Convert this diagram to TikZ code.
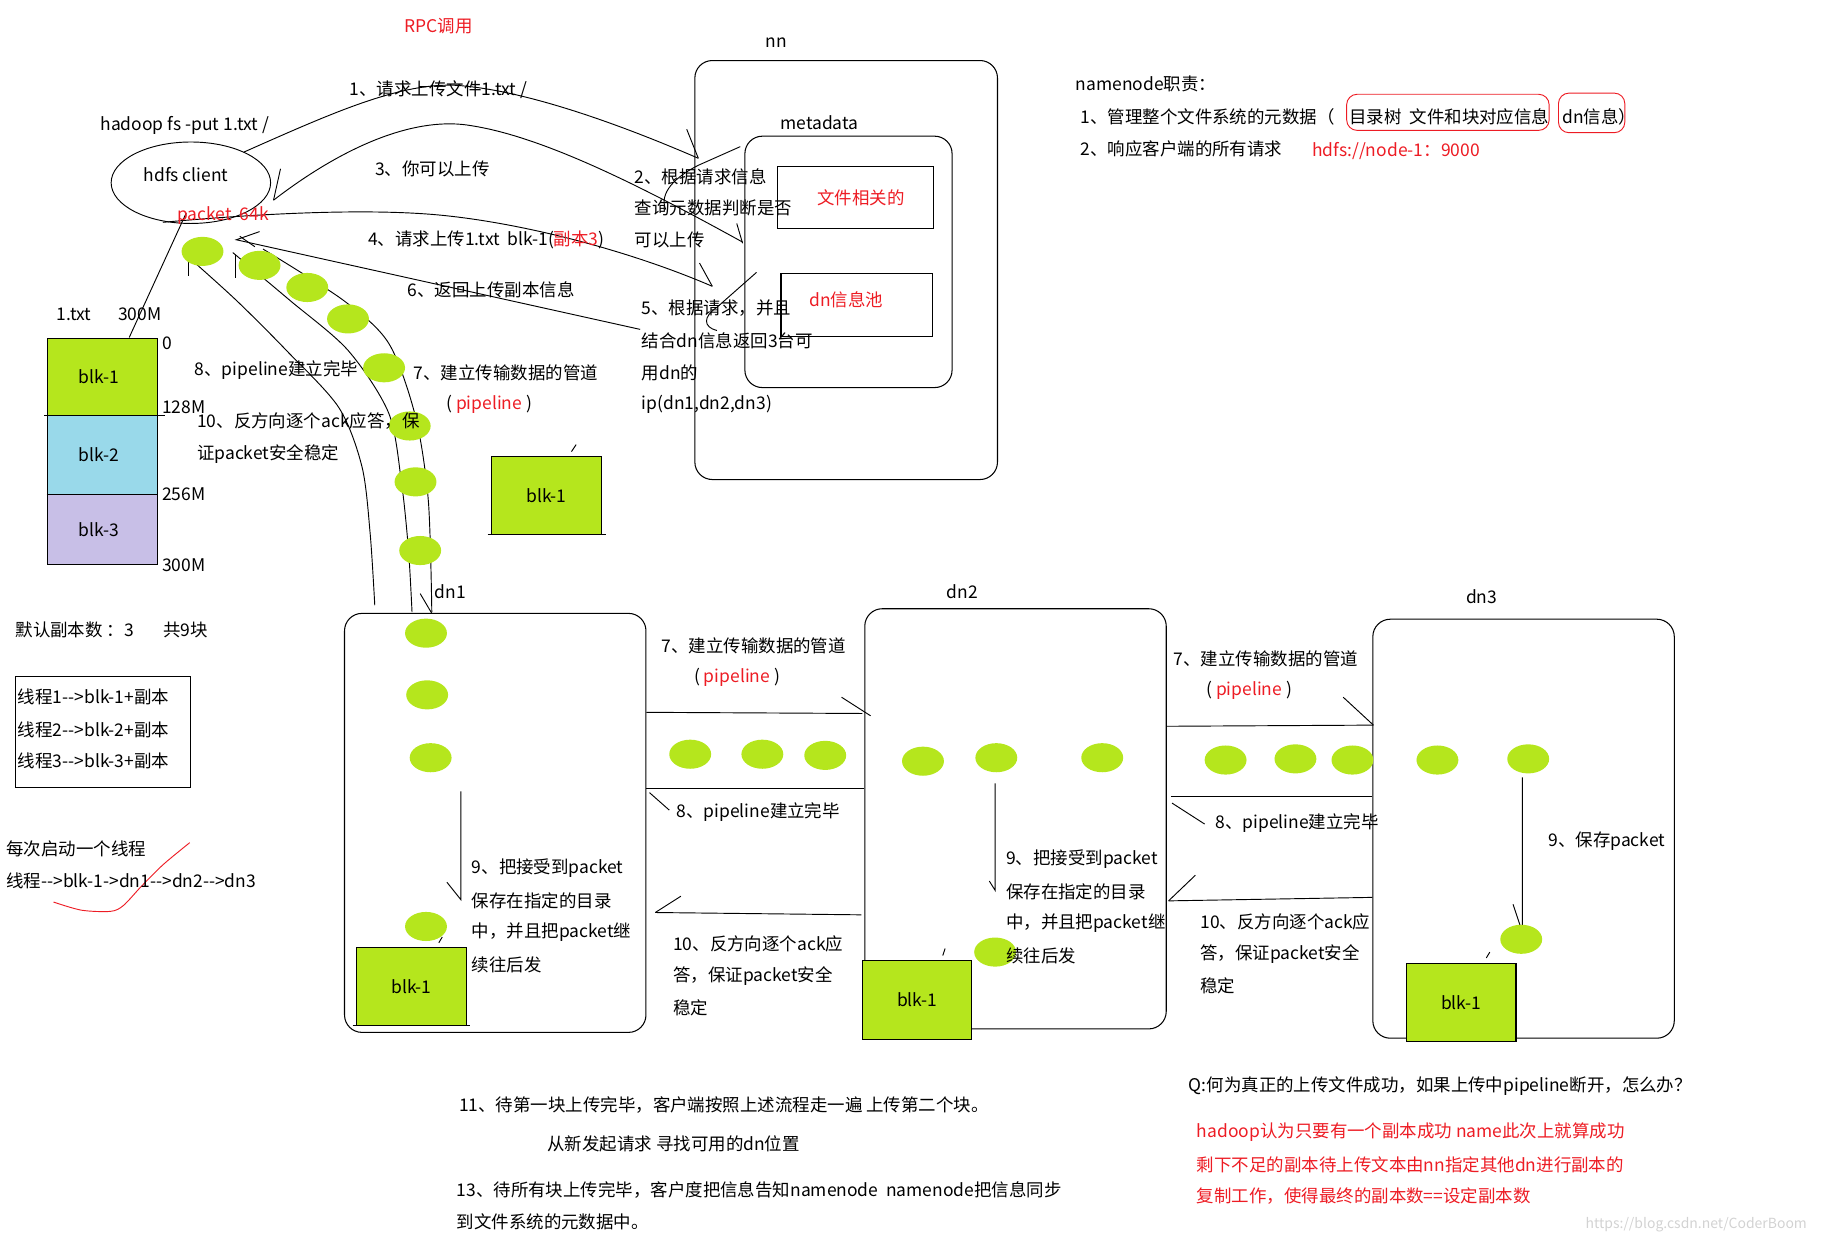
\documentclass[tikz,border=0pt]{standalone}
\usepackage{fontspec}
\setmainfont{Noto Sans CJK SC}[Ligatures=TeXOff]
\usetikzlibrary{shapes.geometric}
\definecolor{paintgreen}{HTML}{B5E61D}
\definecolor{paintblue}{HTML}{99D9EA}
\definecolor{paintlilac}{HTML}{C8BFE7}
\definecolor{paintred}{HTML}{ED1C24}
\newcommand{\txtsize}{\fontsize{15}{18}\selectfont}
\newcommand{\pipetxt}{(\ \textcolor{paintred}{pipeline}\ )}

\begin{document}
\begin{tikzpicture}[
    x=1pt, y=-1pt, line width=0.8pt,
    txt/.style={anchor=west, inner sep=0pt, font=\txtsize},
    redtxt/.style={txt, text=paintred},
    ctxt/.style={inner sep=0pt, font=\txtsize},
    roundbox/.style={draw, line width=0.9pt, rounded corners=15pt, inner sep=0pt},
    plainbox/.style={draw, line width=0.9pt, inner sep=0pt},
    blkbox/.style={draw, line width=0.9pt, fill=paintgreen, inner sep=0pt,
      minimum width=94pt, minimum height=67pt, font=\txtsize},
    packet/.style={fill=paintgreen}
  ]
  \useasboundingbox (0,0) rectangle (1568,1068);

  % boxes
  \node[roundbox, minimum width=260pt, minimum height=360pt] (nn) at (727,232) {};
  \node[roundbox, minimum width=178pt, minimum height=216pt] (meta) at (729,225) {};
  \node[plainbox, minimum width=134pt, minimum height=53pt] (filebox) at (735,169.5) {};
  \node[plainbox, minimum width=130pt, minimum height=54pt] (poolbox) at (736,262) {};
  \node[roundbox, minimum width=259pt, minimum height=360pt] (dn1) at (425.5,707) {};
  \node[roundbox, minimum width=259pt, minimum height=361pt] (dn2) at (872.5,703.5) {};
  \node[roundbox, minimum width=259pt, minimum height=360pt] (dn3) at (1309,712) {};
  \node[draw, ellipse, inner sep=0pt, minimum width=137pt, minimum height=70pt] (client) at (164,157) {};
  \node[plainbox, minimum width=151pt, minimum height=96pt] (threads) at (88.5,629) {};
  \draw[paintred, rounded corners=9pt] (1157,81) rectangle (1331,112);
  \draw[paintred, rounded corners=9pt] (1339,80) rectangle (1396,114);

  % file split into blocks
  \foreach \ya/\yb/\col/\name in {291/357/paintgreen/blk-1, 357/425/paintblue/blk-2, 425/485/paintlilac/blk-3}
  {
    \fill[\col] (41,\ya) rectangle (135,\yb);
    \node[ctxt] (stack-\name) at (85,{(\ya+\yb)/2}) {\name};
  }
  \draw[line width=0.9pt] (41,291) rectangle (135,485);
  \draw (38,357) -- (142,357);
  \draw (40,425) -- (135,425);
  \draw (160,183) -- (111,290);

  % rpc calls between client and nn
  \draw (client.30) .. controls (290,95) and (350,68) .. (400,74)
    .. controls (460,80) and (540,110) .. (600,136);
  \draw (590,111) -- (600,136);
  \draw (636,126) -- (600,142) .. controls (580,152) and (566,166) .. (572,180);
  \draw (235,172) .. controls (300,122) and (360,100) .. (405,108)
    .. controls (470,118) and (560,165) .. (638,208);
  \draw (241,145) -- (235,172);
  \draw (633,192) -- (638,209);
  \draw (140,191) .. controls (250,181) and (330,180) .. (380,185)
    .. controls (450,192) and (540,215) .. (612,246);
  \draw (601,226) -- (612,246);
  \draw (550,283) -- (203,206) -- (223,199);
  \draw (206,203) -- (219,212);
  \draw (650,234) -- (616,264) .. controls (604,272) and (604,281) .. (616,284);

  % tube of packets from client to dn1
  \draw plot[smooth] coordinates {(162,221) (203,258) (246,301) (291,350) (311,401) (318,458) (322,520)};
  \draw plot[smooth] coordinates {(200,217) (249,258) (299,301) (334,355) (345,415) (351,473) (354,526)};
  \draw plot[smooth] coordinates {(226,214) (295,258) (334,295) (357,358) (368,430) (371,526)};
  \draw (162,219) -- (162,237);
  \draw (202,219) -- (202,239);
  \draw (361,510) -- (371,527);

  % pipeline dn1 -> dn2 -> dn3
  \draw (dn1.east |- 0,612) -- (741,613);
  \draw (723,599) -- (748,615);
  \draw (dn1.east |- 0,677) -- (742,677);
  \draw (575,696) -- (558,681);
  \draw (563,784) -- (740,786);
  \draw (585,770) -- (563,784);
  \draw (1002,624) -- (1180,623);
  \draw (1154,599) -- (1180,623);
  \draw (1006,684) -- (1179,684);
  \draw (1035,708) -- (1007,690);
  \draw (1004,774) -- (1179,771);
  \draw (1027,752) -- (1004,774);

  % saving inside the datanodes
  \draw (396,680) -- (396,773) -- (384,758);
  \draw (855,673) -- (855,765) -- (850,757);
  \draw (1308,668) -- (1308,801) -- (1300,777);
  \draw (495,382) -- (491,388);
  \draw (380,805) -- (377,810);
  \draw (812,815) -- (810,821);
  \draw (1280,818) -- (1277,823);

  % packets (x/y)
  \foreach \x/\y in {174/216, 223/228, 264/247, 299/274, 330/316, 352/366, 357/414, 361/473,
                     366/544, 367/597, 370/651, 366/796,
                     593/648, 655/648, 709/649,
                     793/654, 856/651, 947/651, 855/818,
                     1053/653, 1113/652, 1162/653,
                     1235/653, 1313/652, 1307/807}
  {
    \fill[packet] (\x,\y) ellipse [x radius=18pt, y radius=12.5pt];
  }

  % blocks written on datanodes
  \draw (419,459) -- (521,459);
  \node[blkbox] (blknew) at (469.5,425.5) {blk-1};
  \draw (303,881) -- (404,881);
  \node[blkbox] (blkdn1) at (353.5,847.5) {blk-1};
  \node[blkbox, minimum height=68pt] (blkdn2) at (788,859) {blk-1};
  \node[blkbox, minimum height=67pt] (blkdn3) at (1255.5,861.5) {blk-1};

  % red freehand mark
  \draw[paintred] plot[smooth] coordinates {(163,724) (140,743) (121,762) (106,778) (95,783) (70,782) (46,775)};

  % labels of the boxes
  \node[ctxt] (nnlbl) at (667,37) {nn};
  \node[ctxt] (metalbl) at (704,105) {metadata};
  \node[redtxt] (filelbl) at (702,170) {文件相关的};
  \node[redtxt] (poollbl) at (695,258) {dn信息池};
  \node[ctxt] (clientlbl) at (160,150) {hdfs client};
  \node[txt] (dn1lbl) at (373,508) {dn1};
  \node[ctxt] (dn2lbl) at (827,508) {dn2};
  \node[ctxt] (dn3lbl) at (1273,513) {dn3};

  % client side texts
  \node[redtxt] (rpc) at (347,22) {RPC调用};
  \node[txt] (hadoop) at (86,108) {hadoop fs -put 1.txt /};
  \node[redtxt] (pkt) at (152,185) {packet\ \ 64k};
  \node[txt] (s1) at (300,77) {1、请求上传文件1.txt /};
  \node[txt] (s3) at (322,145) {3、你可以上传};
  \node[txt] (s4) at (316,206) {4、请求上传1.txt\ \ blk-1(\textcolor{paintred}{副本3})};
  \node[txt] (s6) at (350,249) {6、返回上传副本信息};
  \foreach \i/\y/\t in {1/152/{2、根据请求信息}, 2/179/{查询元数据判断是否}, 3/206/{可以上传}}
    \node[txt] (s2-\i) at (545,\y) {\t};
  \foreach \i/\y/\t in {1/265/{5、根据请求，并且}, 2/293/{结合dn信息返回3台可}, 3/320/{用dn的}, 4/347/{ip(dn1,dn2,dn3)}}
    \node[txt] (s5-\i) at (551,\y) {\t};
  \node[txt] (s8) at (167,318) {8、pipeline建立完毕};
  \node[txt] (s7) at (355,320) {7、建立传输数据的管道};
  \node[txt] (s7b) at (383,347) {\pipetxt};
  \node[txt] (s10) at (169,362) {10、反方向逐个ack应答，保};
  \node[txt] (s10b) at (169,390) {证packet安全稳定};

  % file and threads
  \node[txt] (fname) at (48,270) {1.txt};
  \node[txt] (fsize) at (101,270) {300M};
  \foreach \y/\t in {295/0, 350/128M, 425/256M, 486/300M}
    \node[txt] (off-\t) at (139,\y) {\t};
  \node[txt] (repl) at (13,541) {默认副本数 ：3};
  \node[txt] (total) at (140,541) {共9块};
  \foreach \i/\y in {1/599, 2/627, 3/654}
    \node[txt] (thr-\i) at (15,\y) {线程\i-->blk-\i+副本};
  \node[txt] (once) at (5,729) {每次启动一个线程};
  \node[txt] (route) at (5,757) {线程-->blk-1->dn1-->dn2-->dn3};

  % namenode duties
  \node[txt] (duty) at (924,72) {namenode职责：};
  \node[txt] (duty1) at (928,100) {1、管理整个文件系统的元数据（};
  \node[txt] (duty1b) at (1159,100) {目录树\ \ 文件和块对应信息};
  \node[txt] (duty1c) at (1342,100) {dn信息）};
  \node[txt] (duty2) at (928,128) {2、响应客户端的所有请求};
  \node[redtxt] (addr) at (1127,130) {hdfs://node-1：9000};

  % datanode texts
  \foreach \i/\y/\t in {1/746/{9、把接受到packet}, 2/774/{保存在指定的目录}, 3/801/{中，并且把packet继}, 4/829/{续往后发}}
  {
    \node[txt] (d1s9-\i) at (405,\y) {\t};
    \node[txt] (d2s9-\i) at (864,{\y-8}) {\t};
  }
  \node[txt] (d3s9) at (1330,723) {9、保存packet};
  \foreach \x/\y/\n in {568/555/1, 1008/566/2}
  {
    \node[txt] (p7-\n) at (\x,\y) {7、建立传输数据的管道};
    \node[txt] (p7b-\n) at (\x+28,\y+27) {\pipetxt};
  }
  \node[txt] (p8-1) at (581,698) {8、pipeline建立完毕};
  \node[txt] (p8-2) at (1044,707) {8、pipeline建立完毕};
  \foreach \x/\y/\n in {578/811/1, 1031/792/2}
  {
    \node[txt] (p10-\n) at (\x,\y) {10、反方向逐个ack应};
    \node[txt] (p10b-\n) at (\x,\y+28) {答，保证packet安全};
    \node[txt] (p10c-\n) at (\x,\y+55) {稳定};
  }

  % notes at the bottom
  \node[txt] (n11) at (394,949) {11、待第一块上传完毕，客户端按照上述流程走一遍 上传第二个块。};
  \node[txt] (n11b) at (470,983) {从新发起请求 寻找可用的dn位置};
  \node[txt] (n13) at (392,1022) {13、待所有块上传完毕，客户度把信息告知namenode\ \ namenode把信息同步};
  \node[txt] (n13b) at (392,1050) {到文件系统的元数据中。};
  \node[txt] (q) at (1021,933) {Q:何为真正的上传文件成功，如果上传中pipeline断开，怎么办？};
  \foreach \i/\y/\t in {1/973/{hadoop认为只要有一个副本成功 name此次上就算成功}, 2/1001/{剩下不足的副本待上传文本由nn指定其他dn进行副本的}, 3/1028/{复制工作，使得最终的副本数==设定副本数}}
    \node[redtxt] (a-\i) at (1028,\y) {\t};
  \node[anchor=west, inner sep=0pt, font=\fontsize{12}{14}\selectfont, text=gray!35] (mark) at (1362,1052) {https://blog.csdn.net/CoderBoom};
\end{tikzpicture}
\end{document}
